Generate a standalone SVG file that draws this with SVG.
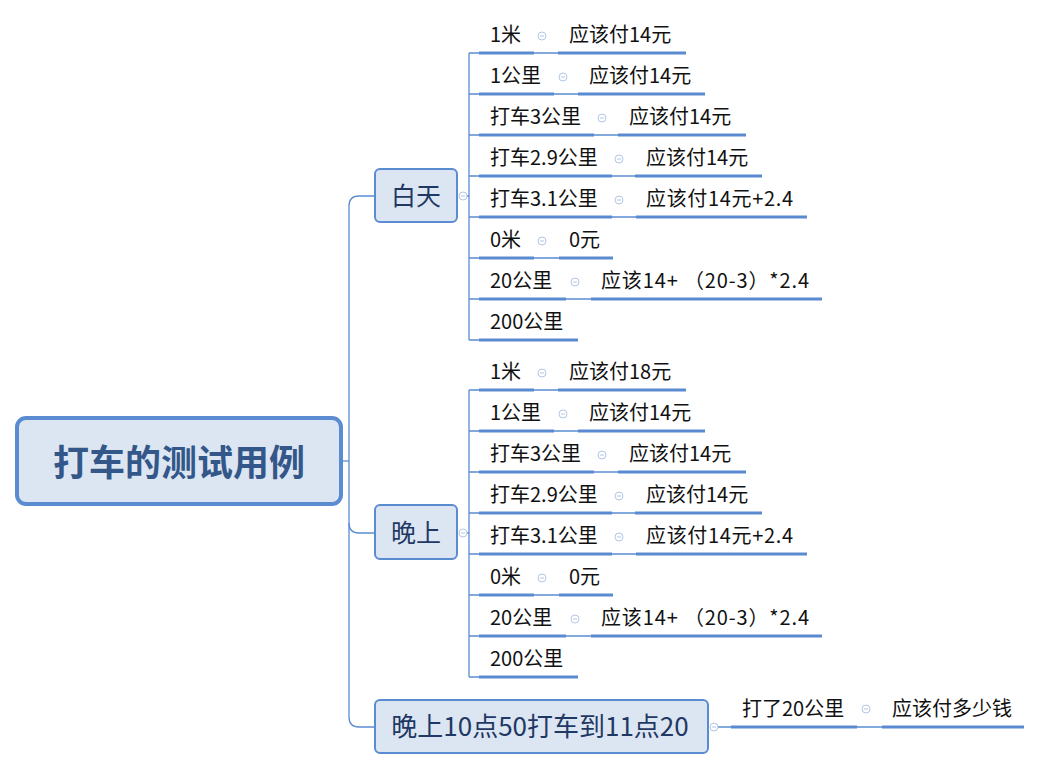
<svg xmlns="http://www.w3.org/2000/svg" width="1042" height="770" viewBox="0 0 1042 770">
<style>
.node{fill:#dce6f2;stroke:#5b8cd2;stroke-width:2}
.root{fill:#dce6f2;stroke:#5b8cd2;stroke-width:4}
.rt{font-family:"Noto Sans CJK SC","Microsoft YaHei",sans-serif;font-size:36px;font-weight:bold;fill:#34578a;text-anchor:middle}
.st{font-family:"Noto Sans CJK SC","Microsoft YaHei",sans-serif;font-size:25px;fill:#1f3864;text-anchor:middle}
.lt{font-family:"Noto Sans CJK SC","Microsoft YaHei",sans-serif;font-size:20px;fill:#111}
.ul{stroke:#5a8ad0;stroke-width:3;fill:none}
.ln{stroke:#5b8cd2;stroke-width:1.3;fill:none}
.cc{fill:#fff;stroke:#b4c6e7;stroke-width:1}
.cm{stroke:#b4c6e7;stroke-width:1}
</style>
<defs>
<g id="col"><circle class="cc" cx="0" cy="0" r="4"/><line class="cm" x1="-2" y1="0" x2="2" y2="0"/></g>
</defs>
<rect width="1042" height="770" fill="#fff"/>
<g id="connectors">
<path class="ln" d="M341 461 H349"/>
<path class="ln" d="M375 196 H359 Q349 196 349 206 V717 Q349 727 359 727 H375"/>
<path class="ln" d="M349 523 Q349 533 359 533 H375"/>
<path class="ln" d="M467 196 H469 M469 53 V340 M469 53 H479 M469 94 H479 M469 135 H479 M469 176 H479 M469 217 H479 M469 258 H479 M469 299 H479 M469 340 H479"/>
<path class="ln" d="M467 533 H469 M469 390 V677 M469 390 H479 M469 431 H479 M469 472 H479 M469 513 H479 M469 554 H479 M469 595 H479 M469 636 H479 M469 677 H479"/>
<path class="ln" d="M534 53 H558 M554 94 H578 M594 135 H618 M612 176 H635 M612 217 H636 M534 258 H559 M566 299 H591"/>
<path class="ln" d="M534 390 H558 M554 431 H578 M594 472 H618 M612 513 H635 M612 554 H636 M534 595 H559 M566 636 H591"/>
<path class="ln" d="M718 727 H731 M857 727 H882"/>
<use href="#col" x="463" y="196"/>
<use href="#col" x="463" y="533"/>
<use href="#col" x="714" y="727"/>
</g>
<g id="root">
<rect class="root" x="17" y="418" width="324" height="86" rx="9"/>
<text class="rt" x="179" y="476">打车的测试用例</text>
</g>
<g id="day">
<rect class="node" x="375" y="169" width="82" height="53" rx="5"/>
<text class="st" x="416" y="205">白天</text>
</g>
<g id="night">
<rect class="node" x="375" y="505" width="82" height="54" rx="5"/>
<text class="st" x="416" y="542">晚上</text>
</g>
<g id="late">
<rect class="node" x="375" y="700" width="333" height="53" rx="5"/>
<text class="st" x="540" y="736" style="font-size:26px">晚上10点50打车到11点20</text>
</g>
<g id="day-leaves">
<path class="ul" d="M479 53 H534 M558 53 H686 M479 94 H554 M578 94 H705 M479 135 H594 M618 135 H746 M479 176 H612 M635 176 H762 M479 217 H612 M636 217 H807 M479 258 H534 M559 258 H613 M479 299 H566 M591 299 H822 M479 340 H578"/>
<use href="#col" x="542" y="36"/><use href="#col" x="563" y="77"/><use href="#col" x="602" y="118"/><use href="#col" x="619" y="159"/><use href="#col" x="619" y="200"/><use href="#col" x="542" y="241"/><use href="#col" x="575" y="282"/>
<text class="lt" x="490" y="42">1米</text><text class="lt" x="569" y="42">应该付14元</text>
<text class="lt" x="490" y="83">1公里</text><text class="lt" x="589" y="83">应该付14元</text>
<text class="lt" x="490" y="124">打车3公里</text><text class="lt" x="629" y="124">应该付14元</text>
<text class="lt" x="490" y="165">打车2.9公里</text><text class="lt" x="646" y="165">应该付14元</text>
<text class="lt" x="490" y="206">打车3.1公里</text><text class="lt" x="646" y="206" textLength="147" lengthAdjust="spacing">应该付14元+2.4</text>
<text class="lt" x="490" y="247">0米</text><text class="lt" x="569" y="247">0元</text>
<text class="lt" x="490" y="288">20公里</text><text class="lt" x="601" y="288" textLength="208" lengthAdjust="spacing">应该14+ （20-3）*2.4</text>
<text class="lt" x="490" y="329">200公里</text>
</g>
<g id="night-leaves">
<path class="ul" d="M479 390 H534 M558 390 H686 M479 431 H554 M578 431 H705 M479 472 H594 M618 472 H746 M479 513 H612 M635 513 H762 M479 554 H612 M636 554 H807 M479 595 H534 M559 595 H613 M479 636 H566 M591 636 H822 M479 677 H578"/>
<use href="#col" x="542" y="373"/><use href="#col" x="563" y="414"/><use href="#col" x="602" y="455"/><use href="#col" x="619" y="496"/><use href="#col" x="619" y="537"/><use href="#col" x="542" y="578"/><use href="#col" x="575" y="619"/>
<text class="lt" x="490" y="379">1米</text><text class="lt" x="569" y="379">应该付18元</text>
<text class="lt" x="490" y="420">1公里</text><text class="lt" x="589" y="420">应该付14元</text>
<text class="lt" x="490" y="461">打车3公里</text><text class="lt" x="629" y="461">应该付14元</text>
<text class="lt" x="490" y="502">打车2.9公里</text><text class="lt" x="646" y="502">应该付14元</text>
<text class="lt" x="490" y="543">打车3.1公里</text><text class="lt" x="646" y="543" textLength="147" lengthAdjust="spacing">应该付14元+2.4</text>
<text class="lt" x="490" y="584">0米</text><text class="lt" x="569" y="584">0元</text>
<text class="lt" x="490" y="625">20公里</text><text class="lt" x="601" y="625" textLength="208" lengthAdjust="spacing">应该14+ （20-3）*2.4</text>
<text class="lt" x="490" y="666">200公里</text>
</g>
<g id="late-leaves">
<path class="ul" d="M731 727 H857 M882 727 H1024"/>
<use href="#col" x="866" y="709"/>
<text class="lt" x="742" y="716">打了20公里</text>
<text class="lt" x="892" y="716">应该付多少钱</text>
</g>
</svg>
